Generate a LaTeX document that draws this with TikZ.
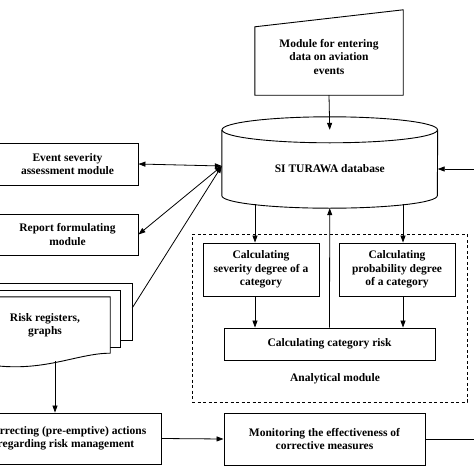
\documentclass[tikz,border=0pt]{standalone}
\usepackage{fontspec}
\setmainfont{Liberation Serif}
\usetikzlibrary{arrows.meta, positioning, calc, backgrounds}

\begin{document}
\begin{tikzpicture}[
    x=1pt, y=-1pt,
    font=\bfseries\fontsize{11.5}{13.3}\selectfont,
    >={Triangle[length=7pt, width=5pt]},
    % ── shared styles ──
    flow box/.style={draw, line width=0.9pt, fill=white, align=center,
        inner sep=0pt, minimum width=#1},
    hidden box/.style={inner sep=0pt, align=center, minimum width=#1},
    outline/.style={draw, line width=0.9pt, fill=white},
    module frame/.style={draw, line width=0.8pt, dash pattern=on 3pt off 2.5pt,
        inner sep=0pt, minimum width=#1},
    flow arrow/.style={->, line width=0.8pt},
    both arrow/.style={<->, line width=0.8pt},
]
\useasboundingbox (0,0) rectangle (474,474);

% ══════════════════════════════════════════════════════════════════════
%  DATA ENTRY + DATABASE
% ══════════════════════════════════════════════════════════════════════
\node[hidden box=148, minimum height=76] (entry) at (329,57)
    {Module for entering\\data on aviation\\events};
\node[hidden box=215.5, minimum height=78] (db) at (329.75,169) {SI TURAWA database};

\begin{scope}[on background layer]
  \draw[outline] (entry.south west) -- (entry.south east)
      -- ([yshift=9pt]entry.north east) -- ([yshift=-8pt]entry.north west) -- cycle;
  \draw[outline] (db.north west) -- ([yshift=12.5pt]db.south west)
      arc[start angle=180, end angle=360, x radius=107.75pt, y radius=12.5pt]
      -- (db.north east);
  \draw[outline] (db.north) ellipse [x radius=107.75pt, y radius=13pt];
\end{scope}

% ══════════════════════════════════════════════════════════════════════
%  LEFT COLUMN  (modules, risk registers, corrective actions)
% ══════════════════════════════════════════════════════════════════════
\node[flow box=141, minimum height=42] (event) at (67.5,164)
    {Event severity\\assessment module};
\node[flow box=141, minimum height=41] (report) at (67.5,234.5)
    {Report formulating\\module};
\node[hidden box=130, minimum height=56] (risk) at (45,325)
    {Risk registers,\\graphs};
\coordinate (regout) at ([shift={(22,-17)}]risk.east);

\begin{scope}[on background layer]
  \draw[outline] ([shift={(12,-13)}]risk.north west) rectangle ([shift={(22,-13)}]risk.south east);
  \draw[outline] ([shift={(6,-6)}]risk.north west) rectangle ([shift={(10,-6)}]risk.south east);
  \draw[outline] (risk.north west) -- (risk.north east) -- (risk.south east)
      .. controls ($(risk.south east)+(-35,0)$) and ($(risk.south west)+(60,22)$)
      .. ($(risk.south west)+(0,10)$) -- cycle;
\end{scope}

\node[flow box=190, minimum height=51] (correct) at (66,438.5)
    {Correcting (pre-emptive) actions\\regarding risk management};
\node[flow box=201, minimum height=52] (monitor) at (324.5,439)
    {Monitoring the effectiveness of\\corrective measures};

% ══════════════════════════════════════════════════════════════════════
%  ANALYTICAL MODULE
% ══════════════════════════════════════════════════════════════════════
\node[module frame=275, minimum height=168] (analytic) at (329.5,318) {};
\node[flow box=116, minimum height=53] (sev) at (261,269.5)
    {Calculating\\severity degree of a\\category};
\node[flow box=116, minimum height=53] (prob) at (397,269.5)
    {Calculating\\probability degree\\of a category};
\node[flow box=211, minimum height=32] (catrisk) at (329.5,344)
    {Calculating category risk};
\node (anlabel) at (335,379) {Analytical module};

% ══════════════════════════════════════════════════════════════════════
%  CONNECTORS
% ══════════════════════════════════════════════════════════════════════
\draw[flow arrow] (entry.south) -- (db.north);
\draw[both arrow] (event.east) -- ([yshift=3pt]db.west);
\draw[both arrow] (report.east) -- ([yshift=3pt]db.west);
\draw[flow arrow] (regout) -- ([yshift=3pt]db.west);

\draw[flow arrow] ($(sev.north |- db.south)+(-6,-4)$) -- ([xshift=-6pt]sev.north);
\draw[flow arrow] ($(prob.north |- db.south)+(6,-4)$) -- ([xshift=6pt]prob.north);
\draw[flow arrow] ([xshift=-6pt]sev.south) -- ($(sev.south |- catrisk.north)+(-6,0)$);
\draw[flow arrow] ([xshift=6pt]prob.south) -- ($(prob.south |- catrisk.north)+(6,0)$);
\draw[flow arrow] (catrisk.north) -- (db.south);

\draw[flow arrow] ([shift={(10,8)}]risk.south) -- ($(risk.south |- correct.north)+(10,0)$);
\draw[flow arrow] (correct.east) -- (monitor.west);
\draw[flow arrow] (monitor.east) -- ++(60,0) |- (db.east);

\end{tikzpicture}
\end{document}
